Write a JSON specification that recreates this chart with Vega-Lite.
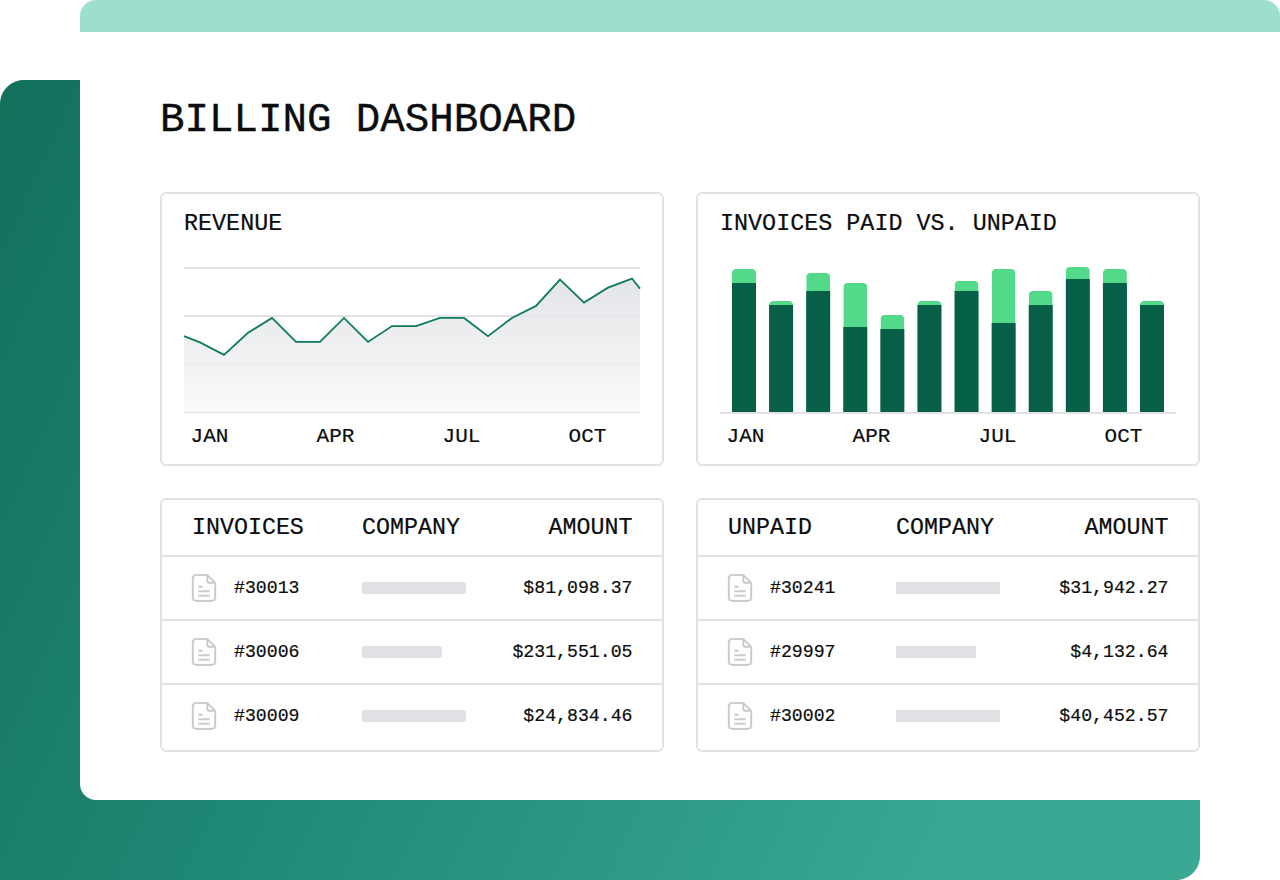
{
"$schema":"https://vega.github.io/schema/vega-lite/v6.json",
"width":1280,"height":880,"padding":0,
"autosize":{"type":"fit","contains":"padding"},
"background":"#ffffff",
"config":{"view":{"stroke":null},"text":{"font":"Liberation Mono","fill":"#0b0d0e","stroke":"#0b0d0e","strokeWidth":0.2}},
"datasets":{
"revenue":[{"day":0,"revenue":158},{"day":16,"revenue":145},{"day":40,"revenue":119},{"day":64,"revenue":165},{"day":88,"revenue":196},{"day":112,"revenue":146},{"day":136,"revenue":146},{"day":160,"revenue":196},{"day":184,"revenue":146},{"day":208,"revenue":179},{"day":232,"revenue":179},{"day":256,"revenue":196},{"day":280,"revenue":196},{"day":304,"revenue":158},{"day":328,"revenue":196},{"day":352,"revenue":221},{"day":376,"revenue":276},{"day":400,"revenue":228},{"day":424,"revenue":259},{"day":448,"revenue":278},{"day":456,"revenue":257}],
"bars":[{"month":"Jan","paid":129,"total":143},{"month":"Feb","paid":107,"total":111},{"month":"Mar","paid":121,"total":139},{"month":"Apr","paid":85,"total":129},{"month":"May","paid":83,"total":97},{"month":"Jun","paid":107,"total":111},{"month":"Jul","paid":121,"total":131},{"month":"Aug","paid":89,"total":143},{"month":"Sep","paid":107,"total":121},{"month":"Oct","paid":133,"total":145},{"month":"Nov","paid":129,"total":143},{"month":"Dec","paid":107,"total":111}],
"months":[{"label":"JAN"},{"label":"APR"},{"label":"JUL"},{"label":"OCT"}],
"tables":[{"table":"Invoices","first":"INVOICES","company":"COMPANY","amount":"AMOUNT"},{"table":"Unpaid","first":"UNPAID","company":"COMPANY","amount":"AMOUNT"}],
"rows":[{"table":"Invoices","row":1,"invoice":"#30013","nameLength":104,"amount":"$81,098.37"},{"table":"Invoices","row":2,"invoice":"#30006","nameLength":80,"amount":"$231,551.05"},{"table":"Invoices","row":3,"invoice":"#30009","nameLength":104,"amount":"$24,834.46"},{"table":"Unpaid","row":1,"invoice":"#30241","nameLength":104,"amount":"$31,942.27"},{"table":"Unpaid","row":2,"invoice":"#29997","nameLength":80,"amount":"$4,132.64"},{"table":"Unpaid","row":3,"invoice":"#30002","nameLength":104,"amount":"$40,452.57"}]
},
"resolve":{"scale":{"x":"independent","y":"independent"}},
"layer":[
{"data":{"values":[{"part":"backdrop"}]},"mark":{"type":"rect","cornerRadiusTopLeft":24,"cornerRadiusBottomRight":24,"color":{"gradient":"linear","x1":0,"y1":0,"x2":1,"y2":0.3,"stops":[{"offset":0,"color":"#12705b"},{"offset":0.5,"color":"#218c79"},{"offset":1,"color":"#3aa893"}]}},
 "encoding":{"x":{"field":"part","type":"nominal","axis":null,"scale":{"type":"band","domain":["backdrop"],"range":[0,1200],"paddingInner":0,"paddingOuter":0}},"y":{"field":"part","type":"nominal","axis":null,"scale":{"type":"band","domain":["backdrop"],"range":[80,880],"paddingInner":0,"paddingOuter":0}}}},
{"data":{"values":[{"part":"tab"}]},"mark":{"type":"rect","cornerRadiusTopLeft":16,"cornerRadiusTopRight":16,"color":"#9ddfcd"},
 "encoding":{"x":{"field":"part","type":"nominal","axis":null,"scale":{"type":"band","domain":["tab"],"range":[80,1280],"paddingInner":0,"paddingOuter":0}},"y":{"field":"part","type":"nominal","axis":null,"scale":{"type":"band","domain":["tab"],"range":[0,32],"paddingInner":0,"paddingOuter":0}}}},
{"data":{"values":[{"part":"sheet"}]},"mark":{"type":"rect","cornerRadiusBottomLeft":16,"cornerRadiusBottomRight":16,"color":"#ffffff"},
 "encoding":{"x":{"field":"part","type":"nominal","axis":null,"scale":{"type":"band","domain":["sheet"],"range":[80,1280],"paddingInner":0,"paddingOuter":0}},"y":{"field":"part","type":"nominal","axis":null,"scale":{"type":"band","domain":["sheet"],"range":[32,800],"paddingInner":0,"paddingOuter":0}}}},
{"data":{"values":[{"card":"Revenue"},{"card":"Invoices paid vs. unpaid"}]},"mark":{"type":"rect","cornerRadius":5,"fill":"#ffffff","stroke":"#e0e2e5","strokeWidth":2},
 "encoding":{"x":{"field":"card","type":"nominal","axis":null,"scale":{"type":"band","domain":["Revenue","Invoices paid vs. unpaid"],"range":[161,1199],"paddingInner":0.06343,"paddingOuter":0}},"y":{"datum":"charts","type":"nominal","axis":null,"scale":{"type":"band","domain":["charts"],"range":[193,465],"paddingInner":0,"paddingOuter":0}}}},
{"data":{"name":"tables"},"mark":{"type":"rect","cornerRadius":5,"fill":"#ffffff","stroke":"#e0e2e5","strokeWidth":2},
 "encoding":{"x":{"field":"table","type":"nominal","axis":null,"scale":{"type":"band","domain":["Invoices","Unpaid"],"range":[161,1199],"paddingInner":0.06343,"paddingOuter":0}},"y":{"datum":"tables","type":"nominal","axis":null,"scale":{"type":"band","domain":["tables"],"range":[499,751],"paddingInner":0,"paddingOuter":0}}}},
{"data":{"name":"rows"},"mark":{"type":"rect","color":"#e0e2e5"},
 "encoding":{"x":{"field":"table","type":"nominal","axis":null,"scale":{"type":"band","domain":["Invoices","Unpaid"],"range":[161,1199],"paddingInner":0.06343,"paddingOuter":0}},"y":{"field":"row","type":"ordinal","axis":null,"scale":{"type":"band","domain":[1,2,3],"range":[555,685],"paddingInner":0.96875,"paddingOuter":0}}}},
{"data":{"values":[{"gridline":300},{"gridline":200},{"gridline":100},{"gridline":0}]},"mark":{"type":"rect","color":"#e2e4e7"},
 "encoding":{"x":{"datum":"revenue","type":"nominal","axis":null,"scale":{"type":"band","domain":["revenue"],"range":[184,640],"paddingInner":0,"paddingOuter":0}},"y":{"field":"gridline","type":"ordinal","axis":null,"sort":null,"scale":{"type":"band","domain":[300,200,100,0],"range":[267,413],"paddingInner":0.95833,"paddingOuter":0}}}},
{"data":{"name":"revenue"},"mark":{"type":"area","line":false,"color":{"gradient":"linear","x1":0,"y1":0,"x2":0,"y2":1,"stops":[{"offset":0,"color":"#dee0e3"},{"offset":1,"color":"#f8f9fa"}]},"opacity":0.85},
 "encoding":{"x":{"field":"day","type":"quantitative","axis":null,"scale":{"domain":[0,456],"range":[184,640],"nice":false,"zero":false}},"y":{"field":"revenue","type":"quantitative","axis":null,"scale":{"domain":[0,300],"range":[412,268],"nice":false}}}},
{"data":{"name":"revenue"},"mark":{"type":"line","color":"#0f7b5f","strokeWidth":1.8},
 "encoding":{"x":{"field":"day","type":"quantitative","axis":null,"scale":{"domain":[0,456],"range":[184,640],"nice":false,"zero":false}},"y":{"field":"revenue","type":"quantitative","axis":null,"scale":{"domain":[0,300],"range":[412,268],"nice":false}}}},
{"data":{"name":"bars"},"mark":{"type":"bar","color":"#52d98a","cornerRadiusTopLeft":4,"cornerRadiusTopRight":4},
 "encoding":{"x":{"field":"month","type":"nominal","axis":null,"sort":null,"scale":{"type":"band","domain":["Jan","Feb","Mar","Apr","May","Jun","Jul","Aug","Sep","Oct","Nov","Dec"],"range":[720,1176],"paddingInner":0.353,"paddingOuter":0.3235}},"y":{"field":"total","type":"quantitative","axis":null,"scale":{"domain":[0,145],"range":[412,267],"nice":false}}}},
{"data":{"name":"bars"},"mark":{"type":"bar","color":"#075f48"},
 "encoding":{"x":{"field":"month","type":"nominal","axis":null,"sort":null,"scale":{"type":"band","domain":["Jan","Feb","Mar","Apr","May","Jun","Jul","Aug","Sep","Oct","Nov","Dec"],"range":[720,1176],"paddingInner":0.353,"paddingOuter":0.3235}},"y":{"field":"paid","type":"quantitative","axis":null,"scale":{"domain":[0,145],"range":[412,267],"nice":false}}}},
{"data":{"values":[{"part":"baseline"}]},"mark":{"type":"rect","color":"#e0e2e5"},
 "encoding":{"x":{"field":"part","type":"nominal","axis":null,"scale":{"type":"band","domain":["baseline"],"range":[720,1176],"paddingInner":0,"paddingOuter":0}},"y":{"field":"part","type":"nominal","axis":null,"scale":{"type":"band","domain":["baseline"],"range":[412,414],"paddingInner":0,"paddingOuter":0}}}},
{"data":{"values":[{"label":"BILLING DASHBOARD"}]},"mark":{"type":"text","fontSize":40.8,"align":"left","baseline":"middle","strokeWidth":0.4},
 "encoding":{"text":{"field":"label"},"x":{"field":"label","type":"nominal","axis":null,"scale":{"type":"point","domain":["BILLING DASHBOARD"],"range":[160,160],"padding":0}},"y":{"field":"label","type":"nominal","axis":null,"scale":{"type":"point","domain":["BILLING DASHBOARD"],"range":[119,119],"padding":0}}}},
{"data":{"values":[{"label":"REVENUE"},{"label":"INVOICES PAID VS. UNPAID"}]},"mark":{"type":"text","fontSize":23.4,"align":"left","baseline":"middle"},
 "encoding":{"text":{"field":"label"},"x":{"field":"label","type":"nominal","axis":null,"scale":{"type":"point","domain":["REVENUE","INVOICES PAID VS. UNPAID"],"range":[184,720],"padding":0}},"y":{"datum":"title","type":"nominal","axis":null,"scale":{"type":"point","domain":["title"],"range":[223,223],"padding":0}}}},
{"data":{"name":"months"},"mark":{"type":"text","fontSize":21,"align":"center","baseline":"middle"},
 "encoding":{"text":{"field":"label"},"x":{"field":"label","type":"nominal","axis":null,"sort":null,"scale":{"type":"point","domain":["JAN","APR","JUL","OCT"],"range":[209.5,587.5],"padding":0}},"y":{"datum":"months","type":"nominal","axis":null,"scale":{"type":"point","domain":["months"],"range":[436,436],"padding":0}}}},
{"data":{"name":"months"},"mark":{"type":"text","fontSize":21,"align":"center","baseline":"middle"},
 "encoding":{"text":{"field":"label"},"x":{"field":"label","type":"nominal","axis":null,"sort":null,"scale":{"type":"point","domain":["JAN","APR","JUL","OCT"],"range":[745.5,1123.5],"padding":0}},"y":{"datum":"months","type":"nominal","axis":null,"scale":{"type":"point","domain":["months"],"range":[436,436],"padding":0}}}},
{"data":{"name":"tables"},"mark":{"type":"text","fontSize":23.3,"align":"left","baseline":"middle"},
 "encoding":{"text":{"field":"first"},"x":{"field":"table","type":"nominal","axis":null,"scale":{"type":"point","domain":["Invoices","Unpaid"],"range":[192,728],"padding":0}},"y":{"datum":"header","type":"nominal","axis":null,"scale":{"type":"point","domain":["header"],"range":[527,527],"padding":0}}}},
{"data":{"name":"tables"},"mark":{"type":"text","fontSize":23.3,"align":"left","baseline":"middle"},
 "encoding":{"text":{"field":"company"},"x":{"field":"table","type":"nominal","axis":null,"scale":{"type":"point","domain":["Invoices","Unpaid"],"range":[362,896],"padding":0}},"y":{"datum":"header","type":"nominal","axis":null,"scale":{"type":"point","domain":["header"],"range":[527,527],"padding":0}}}},
{"data":{"name":"tables"},"mark":{"type":"text","fontSize":23.3,"align":"right","baseline":"middle"},
 "encoding":{"text":{"field":"amount"},"x":{"field":"table","type":"nominal","axis":null,"scale":{"type":"point","domain":["Invoices","Unpaid"],"range":[632.5,1168.5],"padding":0}},"y":{"datum":"header","type":"nominal","axis":null,"scale":{"type":"point","domain":["header"],"range":[527,527],"padding":0}}}},
{"data":{"name":"rows"},"mark":{"type":"point","filled":false,"stroke":"#c8cbd0","strokeWidth":2,"opacity":1,"size":676,"shape":"M -0.6 -1 L 0.25 -1 L 0.86 -0.4 L 0.86 0.72 Q 0.86 1 0.58 1 L -0.58 1 Q -0.86 1 -0.86 0.72 L -0.86 -0.72 Q -0.86 -1 -0.6 -1 Z M 0.25 -1 L 0.25 -0.58 Q 0.25 -0.4 0.43 -0.4 L 0.86 -0.4 M -0.43 -0.1 L -0.1 -0.1 M -0.43 0.25 L 0.43 0.25 M -0.43 0.6 L 0.43 0.6"},
 "encoding":{"x":{"field":"table","type":"nominal","axis":null,"scale":{"type":"point","domain":["Invoices","Unpaid"],"range":[204,740],"padding":0}},"y":{"field":"row","type":"ordinal","axis":null,"scale":{"type":"point","domain":[1,2,3],"range":[588,716],"padding":0}}}},
{"data":{"name":"rows"},"mark":{"type":"text","fontSize":18.2,"align":"left","baseline":"middle"},
 "encoding":{"text":{"field":"invoice"},"x":{"field":"table","type":"nominal","axis":null,"scale":{"type":"point","domain":["Invoices","Unpaid"],"range":[234,770],"padding":0}},"y":{"field":"row","type":"ordinal","axis":null,"scale":{"type":"point","domain":[1,2,3],"range":[588,716],"padding":0}}}},
{"data":{"name":"rows"},"transform":[{"filter":"datum.table==='Invoices'"}],"mark":{"type":"bar","color":"#dfe1e5","cornerRadius":2},
 "encoding":{"x":{"field":"nameLength","type":"quantitative","axis":null,"scale":{"domain":[0,104],"range":[362,466],"nice":false}},"y":{"field":"row","type":"ordinal","axis":null,"scale":{"type":"band","domain":[1,2,3],"range":[582,722],"paddingInner":0.8125,"paddingOuter":0}}}},
{"data":{"name":"rows"},"transform":[{"filter":"datum.table==='Unpaid'"}],"mark":{"type":"bar","color":"#dfe1e5","cornerRadius":2},
 "encoding":{"x":{"field":"nameLength","type":"quantitative","axis":null,"scale":{"domain":[0,104],"range":[896,1000],"nice":false}},"y":{"field":"row","type":"ordinal","axis":null,"scale":{"type":"band","domain":[1,2,3],"range":[582,722],"paddingInner":0.8125,"paddingOuter":0}}}},
{"data":{"name":"rows"},"mark":{"type":"text","fontSize":18.2,"align":"right","baseline":"middle"},
 "encoding":{"text":{"field":"amount"},"x":{"field":"table","type":"nominal","axis":null,"scale":{"type":"point","domain":["Invoices","Unpaid"],"range":[632.5,1168.5],"padding":0}},"y":{"field":"row","type":"ordinal","axis":null,"scale":{"type":"point","domain":[1,2,3],"range":[588,716],"padding":0}}}}
]
}
